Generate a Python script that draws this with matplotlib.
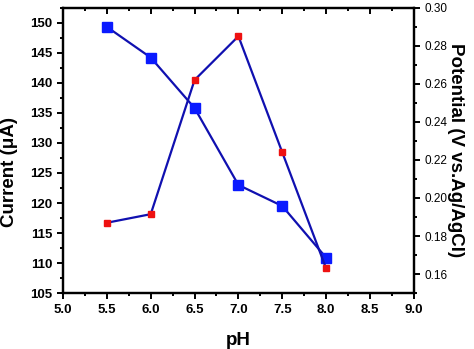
import matplotlib
matplotlib.use('Agg')
import matplotlib.pyplot as plt
from matplotlib.ticker import MultipleLocator

plt.rcParams['font.family'] = ['Liberation Sans', 'DejaVu Sans']

ph = [5.5, 6.0, 6.5, 7.0, 7.5, 8.0]
current = [149.3, 144.2, 135.8, 123.0, 119.5, 110.9]
potential = [0.187, 0.1915, 0.262, 0.285, 0.224, 0.163]

line_col = '#1010b0'

fig = plt.figure(figsize=(4.74, 3.49), dpi=100)
ax = fig.add_axes([0.133, 0.160, 0.740, 0.818])
ax2 = ax.twinx()

ax.plot(ph, current, color=line_col, lw=1.6, marker='s', ms=7,
        mfc='#0a1aff', mec='#0a1aff', zorder=3)
ax2.plot(ph, potential, color=line_col, lw=1.6, marker='s', ms=4.5,
         mfc='#ee1111', mec='#ee1111', zorder=3)

ax.set_xlim(5.0, 9.0)
ax.set_ylim(105, 152.5)
ax2.set_ylim(0.15, 0.30)

ax.xaxis.set_major_locator(MultipleLocator(0.5))
ax.xaxis.set_minor_locator(MultipleLocator(0.25))
ax.yaxis.set_major_locator(MultipleLocator(5))
ax.yaxis.set_minor_locator(MultipleLocator(2.5))
ax2.yaxis.set_major_locator(MultipleLocator(0.02))
ax2.yaxis.set_minor_locator(MultipleLocator(0.01))

for a in (ax, ax2):
    for s in a.spines.values():
        s.set_linewidth(1.6)

ax.tick_params(axis='x', which='both', direction='out', top=True, width=1.4)
ax.tick_params(axis='x', which='major', length=4, labelsize=9.5)
ax.tick_params(axis='x', which='minor', length=2.5)
ax.tick_params(axis='y', which='major', direction='out', length=4, width=1.4, labelsize=9.5)
ax.tick_params(axis='y', which='minor', direction='out', length=2.5, width=1.4)
ax2.tick_params(axis='y', which='major', direction='out', length=4, width=1.4, labelsize=8.5)
ax2.tick_params(axis='y', which='minor', direction='out', length=2.5, width=1.4)

# top ticks point into the plot
for t in ax.xaxis.get_major_ticks() + ax.xaxis.get_minor_ticks():
    t.tick2line.set_marker(3)

for lab in ax.get_xticklabels() + ax.get_yticklabels():
    lab.set_fontweight('bold')

ax.set_xlabel('pH', fontsize=13.5, fontweight='bold', labelpad=12)
ax.set_ylabel('Current (\u03bcA)', fontsize=13.5, fontweight='bold')
ax.yaxis.set_label_coords(-0.127, 0.424)
ax2.set_ylabel('Potential (V vs.Ag/AgCl)', fontsize=13.5, fontweight='bold',
               rotation=270, labelpad=12)

fig.savefig('out.png', dpi=100)
